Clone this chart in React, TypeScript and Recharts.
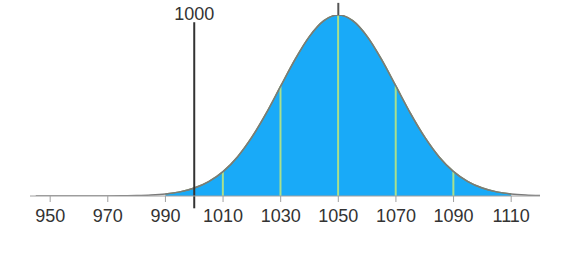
import { ComposedChart, Area, Line, Bar, XAxis, YAxis, ReferenceLine } from 'recharts';

// sample positions along the x axis and the curve height at each (peak = 100)
const xs = [
  945, 950, 955, 960, 965, 970, 975, 980, 985, 990, 995, 1000, 1005, 1010, 1015, 1020, 1025, 1030,
  1035, 1040, 1045, 1050, 1055, 1060, 1065, 1070, 1075, 1080, 1085, 1090, 1095, 1100, 1105, 1110,
  1115, 1120,
];
const density = [
  0, 0, 0, 0, 0.01, 0.03, 0.09, 0.22, 0.51, 1.11, 2.28, 4.39, 7.96, 13.5, 21.6, 32.5, 45.8, 60.7,
  75.5, 88.2, 96.9, 100, 96.9, 88.2, 75.5, 60.7, 45.8, 32.5, 21.6, 13.5, 7.96, 4.39, 2.28, 1.11,
  0.51, 0.22,
];
const shadeFrom = 990;
const shadeTo = 1110;
const markers = [1010, 1030, 1050, 1070, 1090];
const ticks = [950, 970, 990, 1010, 1030, 1050, 1070, 1090, 1110];
const threshold = 1000;
const mean = 1050;

const data = xs.map((x, i) => ({
  x,
  curve: density[i],
  shaded: x >= shadeFrom && x <= shadeTo ? density[i] : null,
  marker: markers.includes(x) ? density[i] : null,
}));

export default function App() {
  return (
    <div style={{ position: 'absolute', left: 0, top: 0, fontFamily: '"Liberation Sans", Arial, sans-serif' }}>
      <ComposedChart width={573} height={255} data={data} margin={{ top: 15, right: 33, left: 30, bottom: 29 }}>
        <XAxis
          dataKey="x"
          type="number"
          domain={[943, 1120]}
          ticks={ticks}
          allowDataOverflow
          tickSize={6}
          tickMargin={7}
          height={30}
          stroke="#a0a0a0"
          tick={{ fill: '#333', fontSize: 18 }}
        />
        <YAxis hide domain={[0, 100]} allowDataOverflow />
        <Line
          type="monotone"
          dataKey="curve"
          stroke="#7a7a7a"
          strokeWidth={1.5}
          dot={false}
          isAnimationActive={false}
        />
        <Area
          type="monotone"
          dataKey="shaded"
          stroke="#7f9a4f"
          strokeWidth={1.5}
          fill="#19aaf8"
          fillOpacity={1}
          isAnimationActive={false}
        />
        <Bar dataKey="marker" barSize={2} fill="#a9e08c" isAnimationActive={false} />
        <ReferenceLine
          segment={[{ x: threshold, y: 96 }, { x: threshold, y: -6.8 }]}
          stroke="#333"
          strokeWidth={2}
          ifOverflow="visible"
          label={{ value: String(threshold), position: 'top', offset: 2, fill: '#333', fontSize: 18 }}
        />
        <ReferenceLine
          segment={[{ x: mean, y: 106.7 }, { x: mean, y: 100 }]}
          stroke="#555"
          strokeWidth={2}
          ifOverflow="visible"
        />
      </ComposedChart>
    </div>
  );
}
